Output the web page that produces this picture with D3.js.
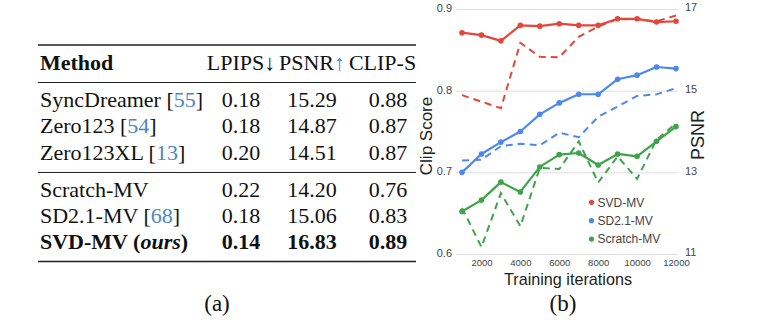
<!DOCTYPE html>
<html><head><meta charset="utf-8">
<script src="https://cdn.jsdelivr.net/npm/d3@7"></script>
<style>
html,body{margin:0;padding:0;background:#fff;}
svg{display:block;}
</style></head>
<body>
<svg id="c" width="768" height="327"></svg>
<script>
// ---------- table data ----------
const methods = ["SyncDreamer", "Zero123", "Zero123XL", "Scratch-MV", "SD2.1-MV", "SVD-MV"];
const citations = ["55", "54", "13", "", "68", ""];
const lpips = ["0.18", "0.18", "0.20", "0.22", "0.18", "0.14"];
const psnrTable = ["15.29", "14.87", "14.51", "14.20", "15.06", "16.83"];
const clipTable = ["0.88", "0.87", "0.87", "0.76", "0.83", "0.89"];
const columns = ["LPIPS", "PSNR", "CLIP-S"];
const columnArrows = ["↓", "↑", "↑"];

// ---------- chart data ----------
const iterations = [1000, 2000, 3000, 4000, 5000, 6000, 7000, 8000, 9000, 10000, 11000, 12000];
const xTicks = [2000, 4000, 6000, 8000, 10000, 12000];
const clipTicks = [0.6, 0.7, 0.8, 0.9];
const psnrTicks = [11, 13, 15, 17];
const seriesNames = ["SVD-MV", "SD2.1-MV", "Scratch-MV"];
const svdClip = [0.871, 0.868, 0.861, 0.880, 0.879, 0.882, 0.880, 0.880, 0.888, 0.888, 0.884, 0.885];
const svdPsnr = [14.89, 14.73, 14.57, 16.17, 15.83, 15.82, 16.32, 16.57, 16.75, 16.75, 16.70, 16.84];
const sdClip = [0.700, 0.7225, 0.737, 0.750, 0.771, 0.785, 0.7956, 0.7956, 0.814, 0.819, 0.829, 0.827];
const sdPsnr = [13.29, 13.31, 13.64, 13.70, 13.66, 13.97, 13.86, 14.36, 14.61, 14.87, 14.91, 15.06];
const scratchClip = [0.652, 0.666, 0.688, 0.676, 0.7066, 0.7217, 0.7237, 0.709, 0.7225, 0.7196, 0.738, 0.756];
const scratchPsnr = [12.13, 11.17, 12.49, 11.68, 13.11, 13.08, 13.76, 12.75, 13.39, 12.84, 13.80, 14.20];
const colors = ["#e5463a", "#4d88f2", "#3ea34b"];

const svg = d3.select("#c");

// ================= TABLE (a) =================
const serif = "'Liberation Serif','Times New Roman',serif";
const blue = "#4a86c8";
svg.append("clipPath").attr("id", "tclip").append("rect")
  .attr("x", 0).attr("y", 0).attr("width", 416).attr("height", 290);
const tg = svg.append("g").attr("clip-path", "url(#tclip)")
  .style("font-family", serif).style("font-size", "22px").attr("fill", "#111");

const colX = [241, 312, 388];
const rowBase = [107, 133, 159.5, 196.5, 223, 248.5];
const rules = [{y: 45, w: 1.6}, {y: 82.5, w: 1}, {y: 172.5, w: 1}, {y: 261.5, w: 1.6}];

tg.selectAll("line.rule").data(rules).join("line").attr("class", "rule")
  .attr("x1", 38).attr("x2", 420).attr("y1", d => d.y).attr("y2", d => d.y)
  .attr("stroke", "#222").attr("stroke-width", d => d.w);

tg.append("text").attr("x", 40).attr("y", 70).attr("font-weight", "bold").text("Method");
columns.forEach((c, i) => {
  const t = tg.append("text").attr("x", colX[i]).attr("y", 70).attr("text-anchor", "middle");
  t.append("tspan").text(c);
  t.append("tspan").attr("fill", i === 0 ? "#111" : blue).text(columnArrows[i]);
});

methods.forEach((m, i) => {
  const bold = i === methods.length - 1;
  const t = tg.append("text").attr("x", 40).attr("y", rowBase[i])
    .attr("font-weight", bold ? "bold" : "normal");
  t.append("tspan").text(m);
  if (citations[i]) {
    t.append("tspan").text(" [");
    t.append("tspan").attr("fill", blue).text(citations[i]);
    t.append("tspan").text("]");
  }
  if (bold) {
    t.append("tspan").text(" (");
    t.append("tspan").attr("font-style", "italic").text("ours");
    t.append("tspan").text(")");
  }
  [lpips[i], psnrTable[i], clipTable[i]].forEach((v, j) => {
    tg.append("text").attr("x", colX[j]).attr("y", rowBase[i]).attr("text-anchor", "middle")
      .attr("font-weight", bold ? "bold" : "normal").text(v);
  });
});

svg.append("text").attr("x", 217).attr("y", 311).attr("text-anchor", "middle")
  .style("font-family", serif).style("font-size", "23px").attr("fill", "#111").text("(a)");
svg.append("text").attr("x", 563).attr("y", 311).attr("text-anchor", "middle")
  .style("font-family", serif).style("font-size", "23px").attr("fill", "#111").text("(b)");

// ================= CHART (b) =================
const sans = "'Liberation Sans',Arial,sans-serif";
const x = d3.scaleLinear().domain([1000, 12000]).range([462, 676]);
const yL = d3.scaleLinear().domain([0.6, 0.9]).range([254, 9]);
const yR = d3.scaleLinear().domain([11, 17]).range([254, 9]);
const cg = svg.append("g").style("font-family", sans);

// gridlines
cg.append("g").attr("transform", "translate(456,0)")
  .call(d3.axisRight(yL).tickValues(clipTicks).tickSize(222).tickFormat(""))
  .call(g => g.select(".domain").remove())
  .call(g => g.selectAll("line").attr("stroke", "#dedede").attr("stroke-width", 1));

// left labels
cg.append("g").attr("transform", "translate(454,-1)")
  .call(d3.axisLeft(yL).tickValues(clipTicks).tickSize(0).tickPadding(2).tickFormat(d3.format(".1f")))
  .call(g => g.select(".domain").remove())
  .call(g => g.selectAll("text").attr("fill", "#444").style("font-size", "11px").style("font-family", sans));

// right labels
cg.append("g").attr("transform", "translate(683,-1.8)")
  .call(d3.axisRight(yR).tickValues(psnrTicks).tickSize(0).tickPadding(2).tickFormat(d3.format("d")))
  .call(g => g.select(".domain").remove())
  .call(g => g.selectAll("text").attr("fill", "#444").style("font-size", "11px").style("font-family", sans));

// x labels
cg.append("g").attr("transform", "translate(0,257.5)")
  .call(d3.axisBottom(x).tickValues(xTicks).tickSize(0).tickPadding(2).tickFormat(d3.format("d")))
  .call(g => g.select(".domain").remove())
  .call(g => g.selectAll("text").attr("fill", "#444").style("font-size", "9.5px").style("font-family", sans));

// axis titles
cg.append("text").attr("transform", "translate(432,136) rotate(-90)").attr("text-anchor", "middle")
  .attr("fill", "#222").style("font-size", "17px").text("Clip Score");
cg.append("text").attr("transform", "translate(704,135) rotate(-90)").attr("text-anchor", "middle")
  .attr("fill", "#222").style("font-size", "18px").text("PSNR");
cg.append("text").attr("x", 568).attr("y", 285).attr("text-anchor", "middle")
  .attr("fill", "#222").style("font-size", "16.2px").text("Training iterations");

const clipSeries = [svdClip, sdClip, scratchClip];
const psnrSeries = [svdPsnr, sdPsnr, scratchPsnr];
const lineL = d3.line().x((d, i) => x(iterations[i])).y(d => yL(d));
const lineR = d3.line().x((d, i) => x(iterations[i])).y(d => yR(d));

// dashed PSNR lines
psnrSeries.forEach((s, k) => {
  cg.append("path").attr("d", lineR(s)).attr("fill", "none").attr("stroke", colors[k])
    .attr("stroke-width", 2).attr("stroke-dasharray", "7,5");
});
// solid clip lines with markers
clipSeries.forEach((s, k) => {
  cg.append("path").attr("d", lineL(s)).attr("fill", "none").attr("stroke", colors[k])
    .attr("stroke-width", 2.2).attr("stroke-linejoin", "round");
  cg.selectAll(null).data(s).join("circle")
    .attr("cx", (d, i) => x(iterations[i])).attr("cy", d => yL(d)).attr("r", 2.8)
    .attr("fill", colors[k]);
});

// legend
const lg = cg.append("g");
seriesNames.forEach((n, k) => {
  const yy = 202.3 + k * 18.4;
  lg.append("circle").attr("cx", 591.5).attr("cy", yy).attr("r", 2.6).attr("fill", colors[k]);
  lg.append("text").attr("x", 597.5).attr("y", yy + 4.3).attr("fill", "#444")
    .style("font-size", "12px").text(n);
});
</script>
</body></html>
